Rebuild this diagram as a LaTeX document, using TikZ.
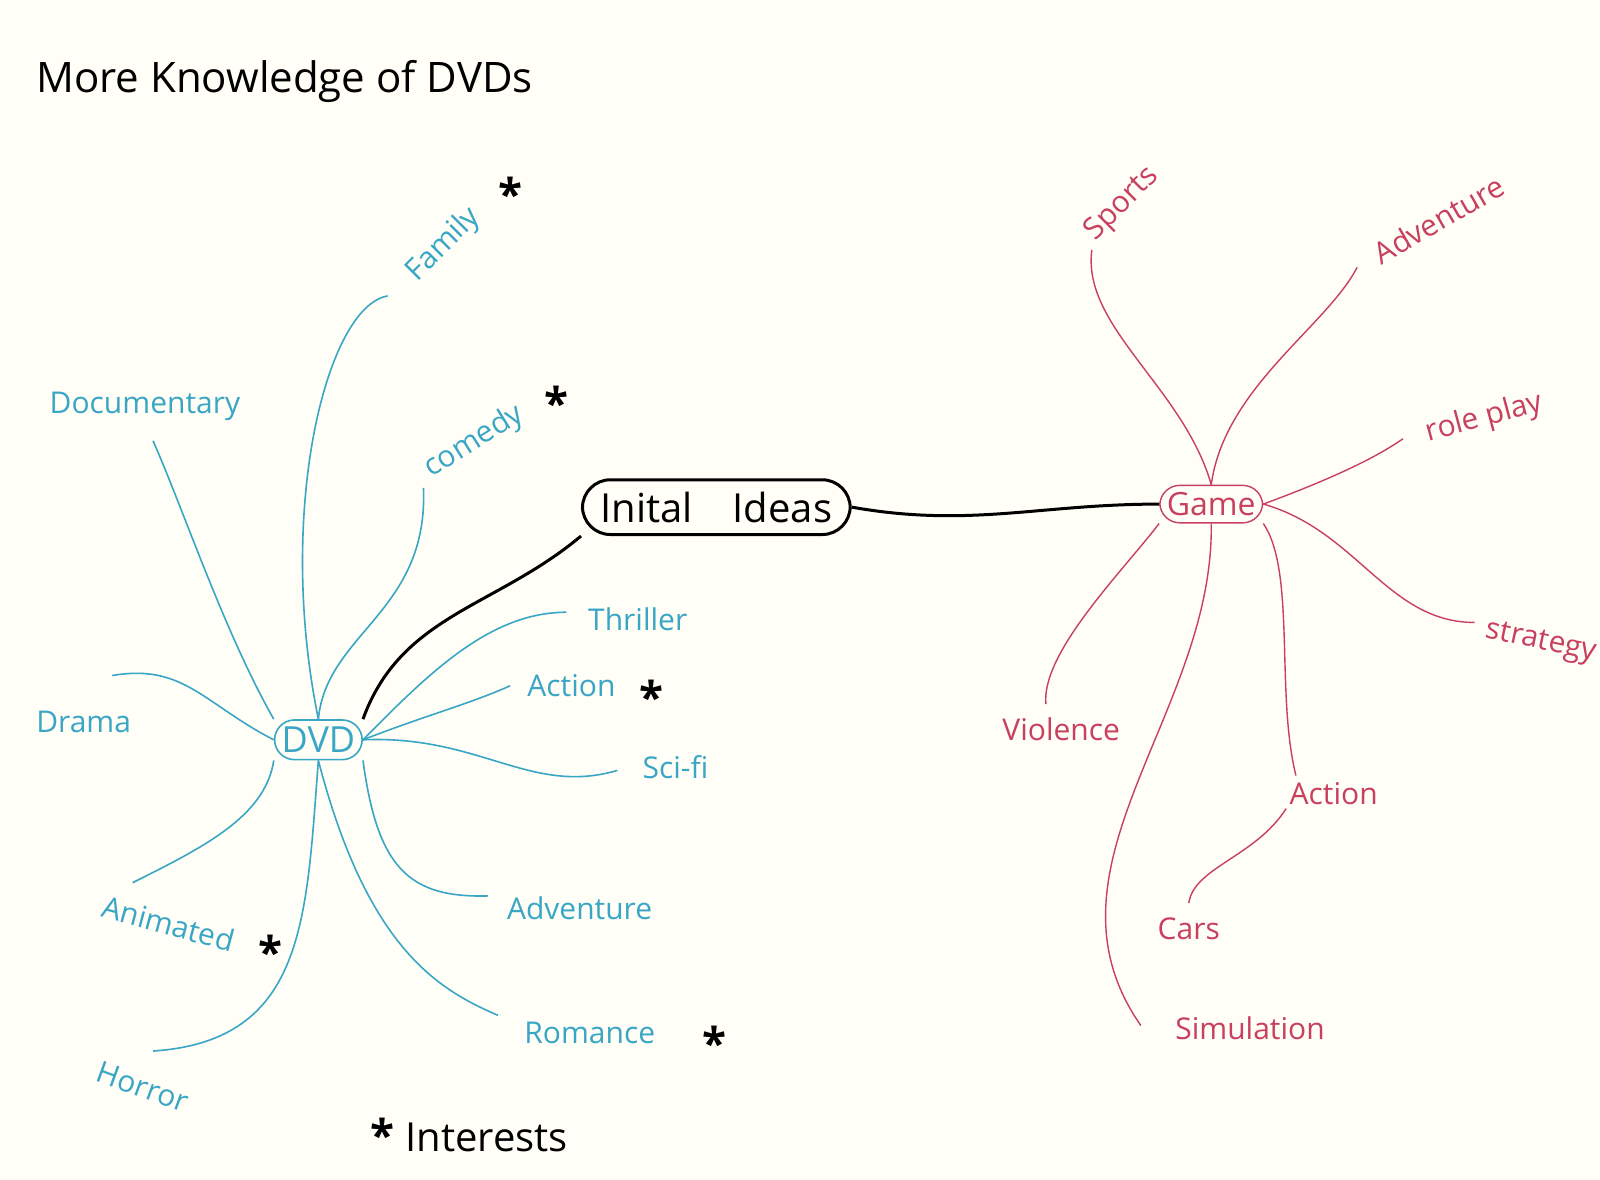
\documentclass[tikz,border=0pt]{standalone}
\usepackage{fontspec}
\setmainfont{Open Sans}
\definecolor{bluink}{HTML}{3AA6C6}
\definecolor{redink}{HTML}{C8405E}
\begin{document}
\begin{tikzpicture}[x=1.0204pt,y=-1.0204pt,
  blu/.style={text=bluink,font=\fontsize{30}{30}\selectfont},
  rd/.style={text=redink,font=\fontsize{30}{30}\selectfont},
  bl/.style={draw=bluink,line width=1.6pt},
  rl/.style={draw=redink,line width=1.4pt},
  star/.style={font=\fontsize{44}{44}\selectfont\bfseries,text=black},
  hub/.style={draw,rounded corners=20pt,inner sep=8pt}]
\fill[black!4!yellow!3!white] (0,0) rectangle (1568,1156);
\useasboundingbox (0,0) rectangle (1568,1156);
\clip (0,0) rectangle (1568,1156);
\node[font=\fontsize{42}{42}\selectfont,anchor=west] (title) at (32,80) {More Knowledge of DVDs};
\node[hub,line width=3pt,font=\fontsize{40}{40}\selectfont,inner xsep=18pt,inner ysep=12pt,rounded corners=28pt] (ii) at (702,497) {Inital\quad Ideas};
\node[hub,bl,blu,font=\fontsize{36}{36}\selectfont,inner sep=7pt] (dvd) at (312,725) {DVD};
\node[hub,rl,rd,font=\fontsize{32}{32}\selectfont,inner sep=7pt] (game) at (1187,494) {Game};
\draw[line width=3pt] (ii.east) to[out=-10,in=180] (game.west);
\draw[line width=3pt] (ii.south west) to[out=-140,in=70] (dvd.north east);
% DVD labels
\node[blu,rotate=45] (fam) at (435,240) {Family};
\node[star] (s1) at (500,190) {*};
\node[blu] (doc) at (142,398) {Documentary};
\node[blu,rotate=32] (com) at (465,433) {comedy};
\node[star] (s2) at (545,395) {*};
\node[blu] (thr) at (625,607) {Thriller};
\node[blu] (act) at (560,672) {Action};
\node[star] (s3) at (638,683) {*};
\node[blu] (sci) at (662,752) {Sci-fi};
\node[blu] (dra) at (82,707) {Drama};
\node[blu,rotate=-15] (ani) at (165,905) {Animated};
\node[star] (s4) at (265,933) {*};
\node[blu] (adv) at (568,890) {Adventure};
\node[blu] (rom) at (578,1012) {Romance};
\node[star] (s5) at (700,1022) {*};
\node[blu,rotate=-20] (hor) at (140,1065) {Horror};
\node[font=\fontsize{40}{40}\selectfont] (int) at (460,1112) {{\bfseries\fontsize{44}{44}\selectfont *} Interests};
\coordinate (cfam) at (380,290);
\coordinate (cdoc) at (150,432);
\coordinate (ccom) at (415,478);
\coordinate (cthr) at (555,600);
\coordinate (cact) at (500,672);
\coordinate (csci) at (605,755);
\coordinate (cdra) at (110,662);
\coordinate (cani) at (130,865);
\coordinate (cadv) at (478,878);
\coordinate (crom) at (488,995);
\coordinate (chor) at (150,1030);
\draw[bl] (dvd.north) .. controls (270,500) and (320,300) .. (cfam);
\draw[bl] (dvd.north west) .. controls (220,620) and (180,500) .. (cdoc);
\draw[bl] (dvd.north) .. controls (320,620) and (420,600) .. (ccom);
\draw[bl] (dvd.east) .. controls (420,660) and (480,600) .. (cthr);
\draw[bl] (dvd.east) .. controls (420,700) and (460,690) .. (cact);
\draw[bl] (dvd.east) .. controls (470,720) and (520,780) .. (csci);
\draw[bl] (dvd.west) .. controls (200,690) and (180,650) .. (cdra);
\draw[bl] (dvd.south west) .. controls (260,800) and (200,830) .. (cani);
\draw[bl] (dvd.south east) .. controls (370,850) and (400,880) .. (cadv);
\draw[bl] (dvd.south) .. controls (360,930) and (430,970) .. (crom);
\draw[bl] (dvd.south) .. controls (300,900) and (300,1020) .. (chor);
% Game labels
\node[rd,rotate=45] (spo) at (1100,200) {Sports};
\node[rd,rotate=30] (gadv) at (1410,215) {Adventure};
\node[rd,rotate=15] (rol) at (1455,410) {role play};
\node[rd,rotate=-12] (str) at (1510,630) {strategy};
\node[rd] (vio) at (1040,715) {Violence};
\node[rd] (gact) at (1307,778) {Action};
\node[rd] (car) at (1165,910) {Cars};
\node[rd] (sim) at (1225,1008) {Simulation};
\coordinate (cspo) at (1070,245);
\coordinate (cgadv) at (1330,262);
\coordinate (crol) at (1375,430);
\coordinate (cstr) at (1445,610);
\coordinate (cvio) at (1025,690);
\coordinate (cgact) at (1270,760);
\coordinate (ccar) at (1165,885);
\coordinate (csim) at (1118,1005);
\draw[rl] (game.north) .. controls (1160,380) and (1060,320) .. (cspo);
\draw[rl] (game.north) .. controls (1200,380) and (1300,320) .. (cgadv);
\draw[rl] (game.east) .. controls (1330,460) and (1360,440) .. (crol);
\draw[rl] (game.east) .. controls (1330,520) and (1360,610) .. (cstr);
\draw[rl] (game.south west) .. controls (1100,560) and (1020,640) .. (cvio);
\draw[rl] (game.south east) .. controls (1270,560) and (1250,680) .. (cgact);
\draw[rl] (gact.south west) .. controls (1230,840) and (1170,850) .. (ccar);
\draw[rl] (game.south) .. controls (1190,700) and (1010,850) .. (csim);
\end{tikzpicture}
\end{document}
